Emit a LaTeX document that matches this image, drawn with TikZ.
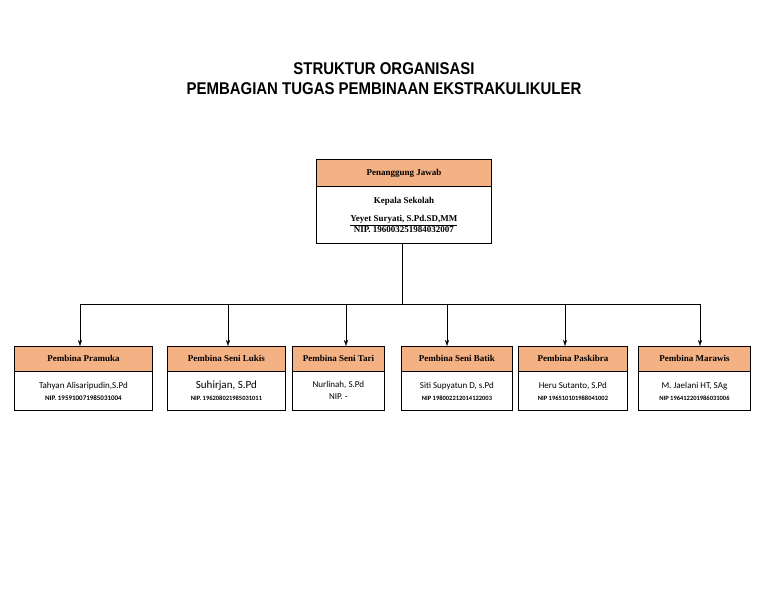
\documentclass[tikz,border=0pt]{standalone}
\usepackage{fontspec}
\setmainfont{Liberation Serif}
\newfontfamily\carl{Carlito}
\newfontfamily\ttlf{Liberation Sans}
\usetikzlibrary{arrows.meta}
\definecolor{hdr}{HTML}{F4B183}
\tikzset{
 hd/.style={draw, thick, fill=hdr, minimum height=25pt, inner sep=0pt, font=\bfseries\fontsize{9}{10}\selectfont},
 bd/.style={draw, thick, fill=white, minimum height=39pt, inner sep=0pt, align=center},
 arr/.style={-{Stealth[length=6pt,width=4pt]}, thin},
 ln/.style={thin}
}
\newcommand\botbox[6]{%
 \node[hd, minimum width=#3pt, anchor=north west] (h#1) at (#2,346) {#4};
 \node[bd, minimum width=#3pt, anchor=north west] (b#1) at (#2,371) {{\carl\fontsize{9}{12}\selectfont #5}\\{\carl\bfseries\fontsize{7}{10}\selectfont #6}};
}
\begin{document}
\begin{tikzpicture}[x=1pt,y=-1pt]
\useasboundingbox (0,0) rectangle (768,594);
\node[font=\ttlf\bfseries\fontsize{17}{20}\selectfont, align=center, xscale=0.88] (t) at (384,79) {STRUKTUR ORGANISASI\\PEMBAGIAN TUGAS PEMBINAAN EKSTRAKULIKULER};
\node[hd, minimum width=175pt, minimum height=27pt, anchor=north west] (th) at (316,159) {Penanggung Jawab};
\node[bd, minimum width=175pt, minimum height=57pt, anchor=north west, font=\bfseries\fontsize{9}{11}\selectfont] (tb) at (316,186) {Kepala Sekolah\\[7pt]\underline{Yeyet Suryati, S.Pd.SD,MM}\\NIP. 196003251984032007};
\botbox{1}{14}{138}{Pembina Pramuka}{Tahyan Alisaripudin,S.Pd}{NIP. 195910071985031004}
\botbox{2}{167}{118}{Pembina Seni Lukis}{\fontsize{11}{12}\selectfont Suhirjan, S.Pd}{\fontsize{6.5}{10}\selectfont NIP. 196208021985031011}
\botbox{3}{292}{92}{Pembina Seni Tari}{Nurlinah, S.Pd}{\mdseries\fontsize{9}{10}\selectfont NIP. -}
\botbox{4}{401}{111}{Pembina Seni Batik}{Siti Supyatun D, s.Pd}{\fontsize{6.5}{10}\selectfont NIP 198002212014122003}
\botbox{5}{518}{109}{Pembina Paskibra}{Heru Sutanto, S.Pd}{\fontsize{6.5}{10}\selectfont NIP 196510101988041002}
\botbox{6}{638}{112}{Pembina Marawis}{M. Jaelani HT, SAg}{\fontsize{6.5}{10}\selectfont NIP 196412201986031006}
\coordinate (j) at (402,304);
\coordinate (l) at (80,304);
\coordinate (r) at (700,304);
\draw[ln] (tb.south -| j) -- (j);
\draw[ln] (l) -- (r);
\foreach \i/\x in {1/80,2/228,3/346,4/447,5/565,6/700}
 \draw[arr] (\x,304) -- (h\i.north -| \x,0);
\end{tikzpicture}
\end{document}
